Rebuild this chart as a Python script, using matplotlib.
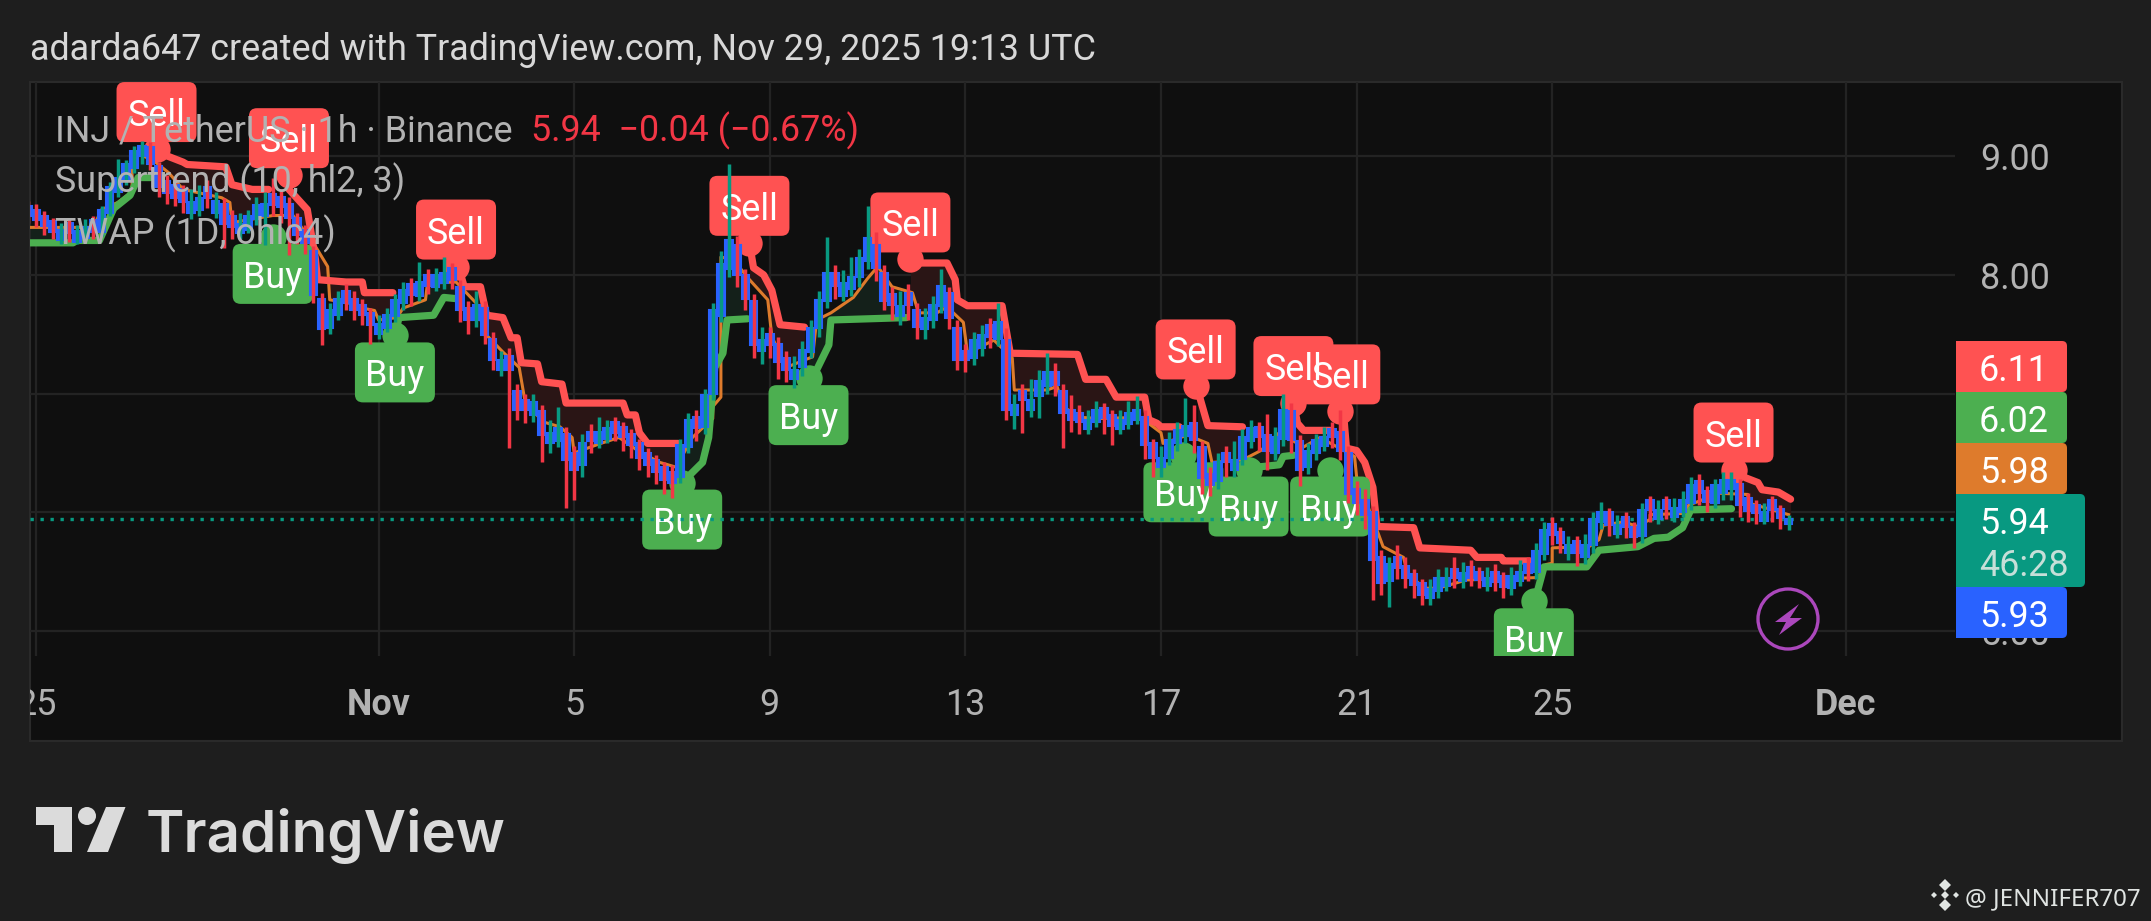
#!/usr/bin/env python3
# INJ/USDT 1h TradingView snapshot, bars thinned to one every 4 hours
import matplotlib
matplotlib.use('Agg')
import matplotlib.pyplot as plt
import numpy as np
from matplotlib.patches import FancyBboxPatch, Polygon, Circle, Rectangle
from matplotlib.transforms import Bbox

plt.rcParams['font.family'] = ['Roboto', 'DejaVu Sans']

# candles: first bar is at hour -172 from Nov 1 00:00, one bar every 4 hours
first_bar_hour = -172
bar_close = [8.50, 8.46, 8.41, 8.36, 8.38, 8.35, 8.37, 8.40, 8.36, 8.55, 8.74, 8.82, 8.93, 9.04, 9.09, 8.93, 8.74, 8.69, 8.65, 8.61, 8.61, 8.65, 8.65, 8.62, 8.43, 8.40, 8.43, 8.50, 8.59, 8.60, 8.59, 8.57, 8.48, 8.34, 8.27, 7.83, 7.54, 7.70, 7.80, 7.76, 7.70, 7.66, 7.58,
             7.59, 7.66, 7.79, 7.87, 7.83, 7.94, 7.91, 8.00, 8.02, 7.96, 7.70, 7.62, 7.75, 7.49, 7.28, 7.28, 7.20, 6.86, 6.86, 6.93, 6.65, 6.67, 6.71, 6.44, 6.36, 6.58, 6.60, 6.68, 6.71, 6.67, 6.63, 6.57, 6.46, 6.40, 6.34, 6.27, 6.25, 6.57, 6.78, 6.71, 6.99, 7.70, 8.09, 8.29, 8.00, 7.80, 7.41, 7.45, 7.41, 7.27, 7.20, 7.20, 7.37, 7.55, 7.79, 8.02, 7.91, 7.93, 7.98, 8.14, 8.31, 8.06, 7.78, 7.75, 7.74, 7.75, 7.56, 7.64, 7.75, 7.91, 7.64, 7.28, 7.28, 7.45, 7.49, 7.48, 7.60,
             6.86, 6.90, 6.95, 6.95, 7.11, 7.18, 7.07, 6.84, 6.78, 6.76, 6.78, 6.86, 6.79, 6.73, 6.78, 6.84, 6.86, 6.57, 6.46, 6.46, 6.61, 6.69, 6.73, 6.61, 6.29, 6.23, 6.42, 6.42, 6.44, 6.63, 6.71, 6.63, 6.52, 6.63, 6.86, 6.61, 6.36, 6.52, 6.61, 6.63, 6.63, 6.52, 6.15, 6.08, 5.98, 5.60, 5.40, 5.56, 5.53, 5.45, 5.39, 5.30, 5.35, 5.45, 5.45, 5.45, 5.49, 5.45, 5.43, 5.45, 5.41, 5.37, 5.46, 5.50, 5.49, 5.67, 5.85, 5.81, 5.74, 5.72, 5.66, 5.72, 5.94, 6.00, 5.89, 5.89, 5.88, 5.79, 6.02, 6.02, 6.02, 6.03, 6.04, 6.10, 6.23, 6.16, 6.09, 6.23, 6.27, 6.27, 6.06, 6.01, 5.99, 6.00, 6.02, 5.95, 5.94]
bar_open = [8.58, 8.55, 8.50, 8.45, 8.29, 8.44, 8.28, 8.31, 8.46, 8.36, 8.52, 8.70, 8.80, 8.90, 9.00, 9.08, 8.92, 8.79, 8.76, 8.72, 8.52, 8.55, 8.74, 8.52, 8.60, 8.50, 8.35, 8.38, 8.47, 8.50, 8.68, 8.66, 8.60, 8.48, 8.38, 8.20, 7.80, 7.55, 7.66, 7.86, 7.80, 7.75, 7.68,
            7.50, 7.55, 7.65, 7.76, 7.92, 7.82, 8.00, 7.90, 7.93, 8.06, 7.90, 7.72, 7.62, 7.72, 7.46, 7.20, 7.32, 7.02, 6.95, 6.82, 6.85, 6.58, 6.60, 6.66, 6.50, 6.40, 6.68, 6.58, 6.62, 6.76, 6.72, 6.66, 6.58, 6.50, 6.44, 6.38, 6.34, 6.30, 6.55, 6.80, 6.72, 7.00, 7.65, 8.05, 8.25, 8.00, 7.78, 7.36, 7.50, 7.42, 7.30, 7.12, 7.22, 7.35, 7.55, 7.78, 8.02, 7.82, 7.88, 7.98, 8.12, 8.25, 8.02, 7.84, 7.65, 7.85, 7.70, 7.54, 7.62, 7.74, 7.85, 7.55, 7.36, 7.30, 7.38, 7.58, 7.46,
            7.45, 6.82, 7.02, 6.86, 6.98, 7.06, 7.18, 7.02, 6.86, 6.84, 6.70, 6.76, 6.88, 6.82, 6.70, 6.74, 6.78, 6.80, 6.58, 6.38, 6.46, 6.58, 6.64, 6.75, 6.55, 6.32, 6.26, 6.50, 6.36, 6.45, 6.60, 6.72, 6.65, 6.50, 6.62, 6.85, 6.60, 6.38, 6.50, 6.56, 6.70, 6.68, 6.50, 6.20, 6.10, 6.00, 5.62, 5.42, 5.62, 5.55, 5.48, 5.40, 5.28, 5.34, 5.38, 5.52, 5.42, 5.54, 5.50, 5.38, 5.50, 5.46, 5.36, 5.42, 5.56, 5.50, 5.65, 5.90, 5.83, 5.66, 5.76, 5.62, 5.72, 5.92, 6.00, 5.82, 5.96, 5.88, 5.80, 6.10, 5.94, 6.10, 5.96, 6.00, 6.08, 6.26, 6.18, 6.08, 6.16, 6.20, 6.24, 6.12, 6.06, 5.93, 6.10, 6.03, 5.90]
bar_high = [8.62, 8.60, 8.54, 8.48, 8.44, 8.47, 8.42, 8.47, 8.50, 8.58, 8.78, 8.98, 8.97, 9.09, 9.13, 9.12, 8.95, 8.84, 8.82, 8.76, 8.72, 8.76, 8.80, 8.70, 8.65, 8.55, 8.52, 8.55, 8.66, 8.70, 8.82, 8.72, 8.66, 8.52, 8.42, 8.24, 7.85, 7.76, 7.86, 7.92, 7.86, 7.80, 7.72,
            7.66, 7.72, 7.84, 7.94, 7.97, 8.11, 8.05, 8.06, 8.15, 8.10, 7.96, 7.78, 7.86, 7.78, 7.52, 7.36, 7.38, 7.08, 7.00, 7.00, 6.90, 6.78, 6.89, 6.72, 6.56, 6.66, 6.74, 6.80, 6.78, 6.80, 6.76, 6.70, 6.62, 6.54, 6.48, 6.42, 6.40, 6.62, 6.84, 6.86, 7.04, 7.76, 8.20, 8.93, 8.33, 8.05, 7.84, 7.56, 7.56, 7.48, 7.36, 7.32, 7.44, 7.62, 7.86, 8.32, 8.08, 8.04, 8.15, 8.22, 8.58, 8.36, 8.08, 7.90, 7.86, 7.92, 7.76, 7.72, 7.82, 8.05, 7.90, 7.62, 7.42, 7.52, 7.58, 7.64, 7.76,
            7.55, 7.00, 7.08, 7.12, 7.20, 7.34, 7.26, 7.08, 6.99, 6.90, 6.86, 6.94, 6.92, 6.86, 6.86, 6.94, 6.98, 6.86, 6.62, 6.56, 6.68, 6.76, 6.96, 6.90, 6.60, 6.38, 6.50, 6.56, 6.60, 6.70, 6.78, 6.76, 6.83, 6.72, 7.00, 6.92, 6.65, 6.58, 6.66, 6.72, 6.76, 6.86, 6.56, 6.26, 6.20, 6.05, 5.68, 5.62, 5.72, 5.62, 5.52, 5.44, 5.44, 5.52, 5.54, 5.62, 5.58, 5.60, 5.54, 5.54, 5.56, 5.50, 5.54, 5.60, 5.62, 5.74, 5.92, 5.96, 5.88, 5.80, 5.80, 5.82, 6.00, 6.09, 6.04, 5.98, 6.00, 5.92, 6.08, 6.14, 6.10, 6.14, 6.12, 6.18, 6.30, 6.32, 6.22, 6.28, 6.34, 6.34, 6.28, 6.16, 6.10, 6.08, 6.14, 6.06, 5.98]
bar_low = [8.44, 8.40, 8.34, 8.30, 8.26, 8.28, 8.26, 8.28, 8.30, 8.33, 8.50, 8.66, 8.76, 8.86, 8.93, 8.88, 8.66, 8.60, 8.58, 8.52, 8.47, 8.50, 8.56, 8.48, 8.23, 8.30, 8.30, 8.35, 8.42, 8.25, 8.50, 8.44, 8.17, 8.26, 8.18, 7.76, 7.41, 7.50, 7.62, 7.70, 7.62, 7.58, 7.42,
           7.46, 7.52, 7.60, 7.70, 7.74, 7.78, 7.84, 7.86, 7.88, 7.88, 7.60, 7.50, 7.56, 7.42, 7.20, 7.15, 6.54, 6.78, 6.75, 6.76, 6.42, 6.50, 6.55, 6.04, 6.10, 6.30, 6.50, 6.54, 6.58, 6.60, 6.52, 6.46, 6.36, 6.30, 6.24, 6.15, 6.12, 6.25, 6.50, 6.60, 6.66, 6.95, 7.60, 7.98, 7.90, 7.70, 7.30, 7.25, 7.30, 7.12, 7.10, 7.05, 7.15, 7.30, 7.48, 7.72, 7.80, 7.78, 7.82, 7.90, 8.05, 7.95, 7.70, 7.62, 7.58, 7.62, 7.46, 7.46, 7.55, 7.68, 7.54, 7.20, 7.18, 7.24, 7.32, 7.38, 7.40,
           6.78, 6.70, 6.67, 6.80, 6.79, 7.00, 6.98, 6.54, 6.68, 6.66, 6.66, 6.72, 6.66, 6.57, 6.66, 6.70, 6.74, 6.45, 6.30, 6.30, 6.40, 6.52, 6.58, 6.50, 6.15, 6.14, 6.20, 6.30, 6.30, 6.40, 6.54, 6.52, 6.36, 6.44, 6.56, 6.50, 6.22, 6.32, 6.44, 6.52, 6.54, 6.44, 6.08, 5.98, 5.86, 5.26, 5.30, 5.20, 5.44, 5.36, 5.28, 5.22, 5.22, 5.28, 5.34, 5.36, 5.36, 5.38, 5.36, 5.34, 5.34, 5.28, 5.30, 5.38, 5.42, 5.44, 5.60, 5.72, 5.66, 5.60, 5.55, 5.56, 5.66, 5.86, 5.80, 5.78, 5.78, 5.70, 5.74, 5.92, 5.90, 5.94, 5.92, 5.96, 6.02, 6.06, 6.00, 6.04, 6.10, 6.10, 5.96, 5.92, 5.90, 5.90, 5.92, 5.86, 5.85]

# supertrend, one pair of lists per stretch of the trend
down_1_h = [-108, -96, -94, -75, -72, -62, -54]
down_1_p = [9.03, 8.95, 8.93, 8.91, 8.76, 8.72, 8.72]
down_2_h = [-44, -35, -31, -30, -16, -8, -7, 7]
down_2_p = [8.72, 8.55, 8.13, 7.96, 7.94, 7.94, 7.85, 7.85]
down_3_h = [40, 42, 50, 53, 61, 65, 68, 70, 78, 80, 90, 92, 120, 122, 126, 128, 132, 147]
down_3_p = [8.02, 7.90, 7.90, 7.66, 7.64, 7.47, 7.47, 7.26, 7.25, 7.10, 7.08, 6.92, 6.92, 6.82, 6.82, 6.67, 6.58, 6.58]
down_4_h = [182, 184, 189, 193, 197, 209]
down_4_p = [8.27, 8.06, 8.00, 7.87, 7.58, 7.56]
down_5_h = [261, 267, 279, 283, 284, 289, 306, 310, 343, 347, 357, 362, 376, 378, 382, 384, 393]
down_5_p = [8.11, 8.10, 8.10, 7.96, 7.79, 7.74, 7.74, 7.34, 7.33, 7.12, 7.12, 6.97, 6.97, 6.78, 6.75, 6.72, 6.72]
down_6_h = [402, 403, 407, 424]
down_6_p = [7.06, 6.97, 6.73, 6.72]
down_7_h = [449, 451, 454, 467]
down_7_p = [6.92, 6.75, 6.69, 6.69]
down_8_h = [472, 474, 475, 480, 484, 488, 490, 508, 511, 536, 539, 551, 552, 565]
down_8_p = [6.85, 6.75, 6.54, 6.52, 6.42, 6.21, 5.88, 5.87, 5.70, 5.68, 5.62, 5.62, 5.59, 5.59]
down_9_h = [665, 671, 677, 679, 687, 693]
down_9_p = [6.36, 6.29, 6.25, 6.19, 6.17, 6.11]

up_1_h = [-171, -150, -148, -137, -130, -122, -118, -112]
up_1_p = [8.27, 8.27, 8.29, 8.29, 8.56, 8.67, 8.82, 8.82]
up_2_h = [8, 10, 27, 32, 38]
up_2_p = [7.49, 7.64, 7.66, 7.81, 7.80]
up_3_h = [149, 159, 162, 164, 165, 169, 171, 181]
up_3_p = [6.25, 6.42, 6.63, 7.03, 7.22, 7.34, 7.62, 7.63]
up_4_h = [211, 215, 221, 222, 259]
up_4_p = [7.13, 7.20, 7.41, 7.62, 7.64]
up_5_h = [427, 431, 442, 444, 449]
up_5_p = [6.36, 6.38, 6.40, 6.47, 6.48]
up_6_h = [567, 569, 572, 593, 599, 618, 626, 633, 640, 644, 664]
up_6_p = [5.25, 5.35, 5.54, 5.54, 5.68, 5.71, 5.78, 5.79, 5.87, 6.02, 6.03]

down_runs = [(down_1_h, down_1_p), (down_2_h, down_2_p), (down_3_h, down_3_p), (down_4_h, down_4_p), (down_5_h, down_5_p),
             (down_6_h, down_6_p), (down_7_h, down_7_p), (down_8_h, down_8_p), (down_9_h, down_9_p)]
up_runs = [(up_1_h, up_1_p), (up_2_h, up_2_p), (up_3_h, up_3_p), (up_4_h, up_4_p), (up_5_h, up_5_p), (up_6_h, up_6_p)]

# TWAP
twap_h = [-171, -140, -136, -128, -121, -121, -120, -111, -103, -96, -77, -73, -72, -52, -42, -31, -25, -24, -14, -8, -2, 0, 9, 12, 23, 24, 38, 48, 52, 61, 69, 72, 81, 89, 95, 96, 109, 118, 128, 138, 146, 154, 164, 164, 168, 168, 174, 182, 191, 193, 200, 213, 215, 222, 233, 240, 245, 252, 262, 265, 274, 279, 287, 289, 302, 311, 312, 328, 333, 336, 344, 354, 374, 384, 385, 397, 407, 409, 424, 433, 442, 454, 462, 479, 480, 490, 493, 503, 505, 513, 520, 534, 569, 573, 576, 576, 594, 599, 601, 611, 618, 624, 624, 640, 643, 658, 672, 672, 692]
twap_p = [8.40, 8.40, 8.55, 8.61, 8.70, 8.91, 9.03, 8.97, 8.86, 8.72, 8.65, 8.61, 8.44, 8.50, 8.50, 8.24, 8.07, 7.79, 7.76, 7.72, 7.70, 7.62, 7.64, 7.72, 7.79, 7.93, 7.94, 7.76, 7.51, 7.35, 7.22, 6.92, 6.76, 6.72, 6.63, 6.50, 6.58, 6.63, 6.51, 6.42, 6.38, 6.63, 6.79, 6.89, 6.97, 8.15, 8.13, 7.96, 7.79, 7.48, 7.22, 7.31, 7.62, 7.68, 7.81, 7.97, 8.07, 7.90, 7.85, 7.68, 7.68, 7.73, 7.60, 7.34, 7.45, 7.30, 7.03, 7.03, 7.06, 6.89, 6.80, 6.79, 6.80, 6.67, 6.58, 6.65, 6.58, 6.42, 6.44, 6.52, 6.67, 6.55, 6.63, 6.47, 6.30, 5.85, 5.71, 5.62, 5.49, 5.36, 5.36, 5.43, 5.45, 5.56, 5.57, 5.70, 5.71, 5.77, 5.89, 5.92, 5.88, 5.94, 5.98, 5.99, 6.06, 6.16, 6.15, 6.08, 5.98]

# signals, at the round dot of each label
sell_h = [-109, -44, 38, 182, 261, 401, 449, 472, 665]
sell_p = [9.06, 8.84, 8.07, 8.27, 8.13, 7.06, 6.92, 6.85, 6.36]
buy_h = [-52, 8, 149, 211, 395, 427, 467, 567]
buy_p = [8.32, 7.49, 6.25, 7.13, 6.48, 6.36, 6.36, 5.25]

last_price = 5.94
x_ticks = [-168, 0, 96, 192, 288, 384, 480, 576, 720]
x_labels = ['25', 'Nov', '5', '9', '13', '17', '21', '25', 'Dec']
y_ticks = [5, 6, 7, 8, 9]

RED = '#FF5252'
GREEN = '#4CAF50'
ORANGE = '#DE7B2C'
TEAL = '#089981'
BLUE = '#2962FF'
CANDLE_RED = '#F23645'
GREY = '#B2B2B2'
GRID = '#232323'
FS = 25.8
W, H = 2151, 921


def pixel_axes(z):
    a = fig.add_axes([0, 0, 1, 1], zorder=z)
    a.set_xlim(0, W)
    a.set_ylim(H, 0)
    a.axis('off')
    return a


fig = plt.figure(figsize=(W / 100, H / 100), dpi=100, facecolor='#1E1E1E')

back = pixel_axes(0)
back.add_patch(Rectangle((30, 82), 2092, 659, fc='#0F0F0F', ec='#2A2A2A', lw=1.5))

# chart area runs 30..1955 x 82..656 px
ax = fig.add_axes([30 / W, 1 - 656 / H, 1925 / W, 574 / H], zorder=1)
ax.patch.set_visible(False)
ax.set_xlim(-171.1, 773.7)
ax.set_ylim(4.789, 9.625)
for s in ax.spines.values():
    s.set_visible(False)
ax.grid(True, color=GRID, lw=1.6, zorder=0)
ax.set_axisbelow(True)
ax.yaxis.tick_right()
ax.set_xticks(x_ticks)
ax.set_xticklabels(x_labels)
ax.set_yticks(y_ticks)
ax.set_yticklabels(['%.2f' % v for v in y_ticks])
ax.tick_params(axis='x', length=0, pad=22, labelsize=FS, labelcolor=GREY)
ax.tick_params(axis='y', length=0, pad=18, labelsize=FS, labelcolor=GREY)
pane = Bbox([[30, 0], [2122, H]])
for t in ax.get_xticklabels():
    t.set_clip_on(True)
    t.set_clip_box(pane)
    if t.get_text() in ('Nov', 'Dec'):
        t.set_fontweight('bold')

# shading between the supertrend and the TWAP
for runs, shade in ((down_runs, '#2A1515'), (up_runs, '#14201A')):
    for run_h, run_p in runs:
        xs = np.union1d(run_h, [h for h in twap_h if run_h[0] <= h <= run_h[-1]])
        ax.fill_between(xs, np.interp(xs, run_h, run_p), np.interp(xs, twap_h, twap_p), color=shade, lw=0, zorder=1)

ax.plot(twap_h, twap_p, color=ORANGE, lw=2.2, zorder=2)
for run_h, run_p in down_runs:
    ax.plot(run_h, run_p, color=RED, lw=5.2, solid_joinstyle='round', solid_capstyle='round', zorder=2)
for run_h, run_p in up_runs:
    ax.plot(run_h, run_p, color=GREEN, lw=5.2, solid_joinstyle='round', solid_capstyle='round', zorder=2)

# labels hang 37 px off the dot, box is 80 x 60 px
px_h = 1 / 2.0375
px_p = 1 / 118.7
for hs, ps, word, col, sign in ((sell_h, sell_p, 'Sell', RED, 1), (buy_h, buy_p, 'Buy', GREEN, -1)):
    ax.plot(hs, ps, 'o', color=col, ms=19, mew=0, zorder=3)
    for h, p in zip(hs, ps):
        cy = p + sign * 37 * px_p
        ax.add_patch(FancyBboxPatch((h - 40 * px_h, cy - 30 * px_p), 80 * px_h, 60 * px_p,
                                    boxstyle='round,pad=0,rounding_size=%f' % (8 * px_h),
                                    mutation_aspect=(px_p / px_h), fc=col, ec='none', zorder=3))
        ax.text(h, cy, word, color='white', fontsize=FS, ha='center', va='center_baseline', clip_on=True, zorder=3.5)

ax.axhline(last_price, color=TEAL, lw=2.4, ls=(0, (1, 2)), zorder=4)

# candles: blue border body, then coloured wick on top
bar_h = first_bar_hour + 4 * np.arange(len(bar_close))
bar_open_a = np.array(bar_open)
bar_close_a = np.array(bar_close)
body_low = np.minimum(bar_open_a, bar_close_a)
body_size = np.abs(bar_close_a - bar_open_a)
colors = [TEAL if c >= o else CANDLE_RED for o, c in zip(bar_open, bar_close)]
ax.bar(bar_h, body_size, 3.7, bottom=body_low, color=BLUE, ec=BLUE, lw=1.5, zorder=5)
ax.vlines(bar_h, bar_low, bar_high, colors=colors, lw=2.5, zorder=6)

front = pixel_axes(2)

# price boxes on the scale
for top, bottom, right, col, txt in ((341, 392, 2067, RED, '6.11'), (392, 443, 2067, GREEN, '6.02'),
                                     (443, 494, 2067, ORANGE, '5.98'), (587, 638, 2067, BLUE, '5.93')):
    front.add_patch(FancyBboxPatch((1956, top), right - 1956, bottom - top, boxstyle='round,pad=0,rounding_size=5', fc=col, ec='none'))
    front.add_patch(Rectangle((1956, top), 20, bottom - top, fc=col, ec='none'))
    front.text(2014, (top + bottom) / 2, txt, color='white', fontsize=FS, ha='center', va='center_baseline')
front.add_patch(FancyBboxPatch((1956, 494), 129, 93, boxstyle='round,pad=0,rounding_size=5', fc=TEAL, ec='none'))
front.add_patch(Rectangle((1956, 494), 20, 93, fc=TEAL, ec='none'))
front.text(2014, 520, '5.94', color='white', fontsize=FS, ha='center', va='center_baseline')
front.text(2024, 562, '46:28', color='#C6DFD8', fontsize=FS, ha='center', va='center_baseline')

# lightning badge
front.add_patch(Circle((1788, 619), 30, fc='#0F0F0F', ec='#AB47BC', lw=2.4))
front.add_patch(Polygon([(1799, 604), (1775, 622), (1786, 622), (1779, 635), (1802, 618), (1790, 618)], fc='#AB47BC', ec='none'))

# legend
front.text(55, 127, 'INJ / TetherUS · 1h · Binance', color=GREY, fontsize=FS, va='center_baseline')
front.text(531, 127, '5.94  \u22120.04 (\u22120.67%)', color=CANDLE_RED, fontsize=FS, va='center_baseline')
front.text(55, 178, 'Supertrend (10, hl2, 3)', color=GREY, fontsize=FS, va='center_baseline')
front.text(55, 230, 'TWAP (1D, ohlc4)', color=GREY, fontsize=FS, va='center_baseline')

# header and footer
front.text(30, 46, 'adarda647 created with TradingView.com, Nov 29, 2025 19:13 UTC', color='#D8D8D8', fontsize=FS, va='center_baseline')
LOGO = '#DBDBDB'
front.add_patch(Polygon([(36, 807), (72, 807), (72, 852), (54, 852), (54, 825), (36, 825)], fc=LOGO, ec='none'))
front.add_patch(Circle((87, 816), 9, fc=LOGO, ec='none'))
front.add_patch(Polygon([(106, 807), (125.5, 807), (108, 852), (87, 852)], fc=LOGO, ec='none'))
front.text(146, 852, 'TradingView', color=LOGO, fontsize=42, family='Inter', fontweight='semibold', va='baseline')

# watermark
MARK = '#E0E4E2'
for cx, cy, r in ((1945, 885, 6), (1945, 895, 4), (1934, 895, 3), (1956, 895, 3), (1945, 905, 6)):
    front.add_patch(Polygon([(cx, cy - r), (cx + r, cy), (cx, cy + r), (cx - r, cy)], fc=MARK, ec='none'))
front.text(1965, 896, '@ JENNIFER707', color=MARK, fontsize=17.4, family='Noto Sans', va='center_baseline')

fig.savefig('out.png', dpi=100, facecolor=fig.get_facecolor())
